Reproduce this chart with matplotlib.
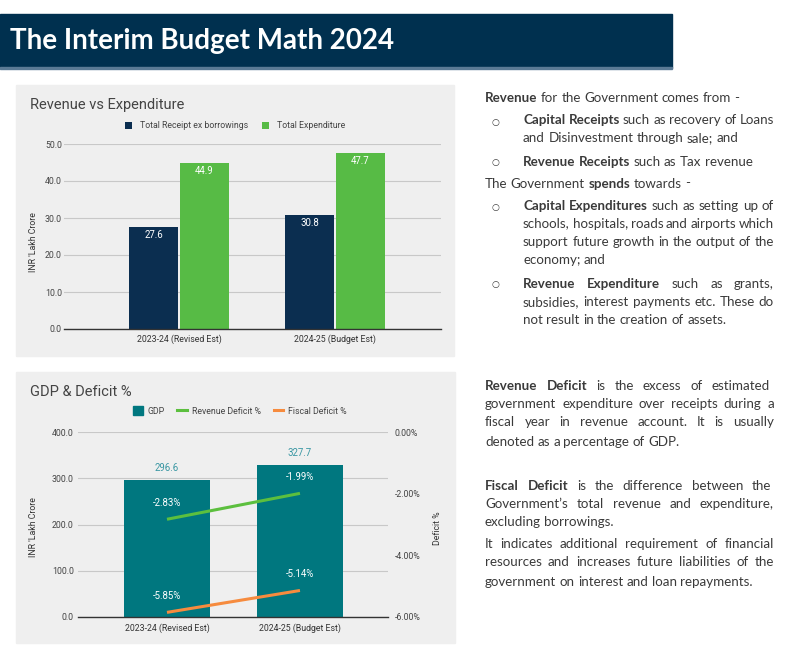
import matplotlib
matplotlib.use('Agg')
import matplotlib.pyplot as plt
from matplotlib.patches import Rectangle, Patch
from matplotlib.lines import Line2D
from matplotlib.ticker import FormatStrFormatter
import numpy as np

# ---------------- data ----------------
categories = ['2023-24 (Revised Est)', '2024-25 (Budget Est)']
total_receipt = [27.6, 30.8]
total_expenditure = [44.9, 47.7]
gdp = [296.6, 327.7]
revenue_deficit = [-2.83, -1.99]
fiscal_deficit = [-5.85, -5.14]
left_ticks_1 = [0, 10, 20, 30, 40, 50]
left_ticks_2 = [0, 100, 200, 300, 400]
right_ticks_2 = [0, -2, -4, -6]

NAVY = '#0b2e50'
GREEN = '#57bb45'
TEAL = '#00777f'
TEAL_TXT = '#3a97a3'
LGREEN = '#5cbf3e'
ORANGE = '#f68b3e'
BANNER = '#00304f'
PANEL = '#efefef'
TXT = '#3a3a3a'
CFONT = 'Roboto'
BFONT = 'Lato'
TS = 6.3   # chart tick / legend size
VS = 6.9   # value label size

W, H = 800, 655
fig = plt.figure(figsize=(8, 6.55), dpi=100)
fig.patch.set_facecolor('white')


def fx(x):
    return x / W


def fy(y):
    return 1 - y / H


def rect_px(x0, y0, x1, y1, **kw):
    r = Rectangle((fx(x0), fy(y1)), (x1 - x0) / W, (y1 - y0) / H,
                  transform=fig.transFigure, **kw)
    fig.add_artist(r)
    return r


def ax_px(x0, y0, x1, y1):
    return fig.add_axes([fx(x0), fy(y1), (x1 - x0) / W, (y1 - y0) / H])


# ---------------- banner ----------------
rect_px(0, 14, 672, 68, color=BANNER, zorder=0)
rect_px(0, 67, 672, 68.5, color='#5a7a95', zorder=0)
fig.text(fx(10), fy(41), 'The Interim Budget Math 2024', color='white',
         fontsize=20, fontweight='bold', family=BFONT, va='center', ha='left')

# ---------------- panels ----------------
rect_px(16, 85, 454, 356, color=PANEL, zorder=0)
rect_px(16, 372, 455, 643, color=PANEL, zorder=0)

fig.text(fx(30), fy(105), 'Revenue vs Expenditure', family=CFONT, fontsize=10.5,
         color='#444444', va='center', ha='left')
fig.text(fx(30), fy(392), 'GDP & Deficit %', family=CFONT, fontsize=10.5,
         color='#444444', va='center', ha='left')

# ---------------- chart 1 ----------------
ax1 = ax_px(64, 144, 441, 329)
ax1.set_facecolor('none')
x = np.arange(len(categories))
bw = 0.315
gap = 0.012
b1 = ax1.bar(x - bw / 2 - gap / 2, total_receipt, bw, color=NAVY,
             label='Total Receipt ex borrowings', zorder=3)
b2 = ax1.bar(x + bw / 2 + gap / 2, total_expenditure, bw, color=GREEN,
             label='Total Expenditure', zorder=3)
ax1.set_xlim(-0.737, 1.68)
ax1.set_ylim(0, 50)
ax1.set_yticks(left_ticks_1)
ax1.yaxis.set_major_formatter(FormatStrFormatter('%.1f'))
ax1.grid(axis='y', color='#c8c8c8', lw=0.8, zorder=0)
ax1.set_axisbelow(True)
for s in ['left', 'right', 'top']:
    ax1.spines[s].set_visible(False)
ax1.spines['bottom'].set_color('#333333')
ax1.spines['bottom'].set_linewidth(1.0)
ax1.spines['bottom'].set_zorder(4)
ax1.set_xticks(x, categories)
ax1.tick_params(axis='y', length=0, labelsize=TS, colors='#444444', pad=1.5)
ax1.tick_params(axis='x', length=0, labelsize=TS, colors='#333333', pad=4)
for lab in ax1.get_xticklabels() + ax1.get_yticklabels():
    lab.set_family(CFONT)
for bars, vals in ((b1, total_receipt), (b2, total_expenditure)):
    for r, v in zip(bars, vals):
        ax1.annotate(f'{v:.1f}', (r.get_x() + r.get_width() / 2, v),
                     xytext=(0, -8), textcoords='offset pixels',
                     ha='center', va='center', color='white', fontsize=VS,
                     family=CFONT, zorder=5)
fig.text(fx(34), fy(242), "INR 'Lakh Crore", rotation=90, family=CFONT,
         fontsize=TS, color='#333333', ha='center', va='center')
leg1 = ax1.legend(loc='center', bbox_to_anchor=(fx(235), fy(126)),
                  bbox_transform=fig.transFigure, ncol=2, frameon=False,
                  prop={'family': CFONT, 'size': TS}, handlelength=0.85,
                  handleheight=0.85, columnspacing=1.6, handletextpad=0.9)
for t in leg1.get_texts():
    t.set_color('#444444')

# ---------------- chart 2 ----------------
ax2 = ax_px(78, 432, 388, 617)
ax2.set_facecolor('none')
bw2 = 0.647
g_bars = ax2.bar(x, gdp, bw2, color=TEAL, zorder=3)
ax2.set_xlim(-0.669, 1.662)
ax2.set_ylim(0, 400)
ax2.set_yticks(left_ticks_2)
ax2.yaxis.set_major_formatter(FormatStrFormatter('%.1f'))
ax2.grid(axis='y', color='#c8c8c8', lw=0.8, zorder=0)
ax2.set_axisbelow(True)
for s in ['left', 'right', 'top']:
    ax2.spines[s].set_visible(False)
ax2.spines['bottom'].set_color('#333333')
ax2.spines['bottom'].set_linewidth(1.0)
ax2.spines['bottom'].set_zorder(4)
ax2.set_xticks(x, categories)
ax2.tick_params(axis='y', length=0, labelsize=TS, colors='#444444', pad=3)
ax2.tick_params(axis='x', length=0, labelsize=TS, colors='#333333', pad=4.5)
for lab in ax2.get_xticklabels() + ax2.get_yticklabels():
    lab.set_family(CFONT)
for r, v in zip(g_bars, gdp):
    ax2.annotate(f'{v:.1f}', (r.get_x() + r.get_width() / 2, v),
                 xytext=(0, 12), textcoords='offset pixels',
                 ha='center', va='center', color=TEAL_TXT, fontsize=VS,
                 family=CFONT, zorder=5)

ax2r = ax2.twinx()
ax2r.set_ylim(-6, 0)
ax2r.set_yticks(right_ticks_2)
ax2r.yaxis.set_major_formatter(FormatStrFormatter('%.2f%%'))
for s in ['left', 'right', 'top', 'bottom']:
    ax2r.spines[s].set_visible(False)
ax2r.tick_params(axis='y', length=0, labelsize=TS, colors='#444444', pad=5)
for lab in ax2r.get_yticklabels():
    lab.set_family(CFONT)
ax2r.plot(x, revenue_deficit, color=LGREEN, lw=2.2, solid_capstyle='butt', zorder=4)
ax2r.plot(x, fiscal_deficit, color=ORANGE, lw=2.2, solid_capstyle='butt', zorder=4)
for vals in (revenue_deficit, fiscal_deficit):
    for xi, v in zip(x, vals):
        ax2r.annotate(f'{v:.2f}%', (xi, v), xytext=(0, 16),
                      textcoords='offset pixels', ha='center', va='center',
                      color='white', fontsize=VS, family=CFONT, zorder=5)
fig.text(fx(34), fy(527), "INR 'Lakh Crore", rotation=90, family=CFONT,
         fontsize=TS, color='#333333', ha='center', va='center')
fig.text(fx(437), fy(528), 'Deficit %', rotation=90, family=CFONT,
         fontsize=TS, color='#333333', ha='center', va='center')
handles2 = [Patch(color=TEAL, label='GDP'),
            Line2D([], [], color=LGREEN, lw=2.2, label='Revenue Deficit %'),
            Line2D([], [], color=ORANGE, lw=2.2, label='Fiscal Deficit %')]
leg2 = ax2r.legend(handles=handles2, loc='center', bbox_to_anchor=(fx(240), fy(411)),
                   bbox_transform=fig.transFigure, ncol=3, frameon=False,
                   prop={'family': CFONT, 'size': TS}, handlelength=1.1,
                   handleheight=1.15, columnspacing=1.4, handletextpad=0.6)
for t in leg2.get_texts():
    t.set_color('#444444')

# ---------------- right-hand text ----------------
FS = 9.6
renderer = fig.canvas.get_renderer()


def measure(s, bold):
    t = fig.text(0, 0, s, fontsize=FS, family=BFONT,
                 fontweight='bold' if bold else 'normal')
    w = t.get_window_extent(renderer=renderer).width
    t.remove()
    return w


def draw_line(runs, x0, yc, x1=None):
    """runs: list of (text, bold). If x1 given, justify words to span x0..x1."""
    words = []
    for txt, bold in runs:
        for w in txt.split():
            words.append((w, bold))
    base = yc + 4.5
    widths = [measure(w, b) for w, b in words]
    if x1 is not None and len(words) > 1:
        space = (x1 - x0 - sum(widths)) / (len(words) - 1)
    else:
        space = measure('a b', False) - measure('ab', False)
    cx = x0
    for (w, b), wd in zip(words, widths):
        fig.text(fx(cx), fy(base), w, fontsize=FS, family=BFONT, color=TXT,
                 fontweight='bold' if b else 'normal', va='baseline', ha='left')
        cx += wd + space


def bullet(yc):
    fig.text(fx(495), fy(yc + 4.5), '\u25cb', fontsize=6.5, family='DejaVu Sans',
             color=TXT, va='baseline', ha='center')


L, IND, R = 485, 523, 774
draw_line([('Revenue', True), ('for the Government comes from -', False)], L, 98)
bullet(120)
draw_line([('Capital Receipts', True), ('such as recovery of Loans', False)], IND, 120, R)
draw_line([('and Disinvestment through sale; and', False)], IND, 138)
bullet(161)
draw_line([('Revenue Receipts', True), ('such as Tax revenue', False)], IND, 161)
draw_line([('The Government', False), ('spends', True), ('towards -', False)], L, 183)
bullet(205)
draw_line([('Capital Expenditures', True), ('such as setting up of', False)], IND, 205, R)
draw_line([('schools, hospitals, roads and airports which', False)], IND, 223, R)
draw_line([('support future growth in the output of the', False)], IND, 242, R)
draw_line([('economy; and', False)], IND, 260)
bullet(283)
draw_line([('Revenue Expenditure', True), ('such as grants,', False)], IND, 283, R)
draw_line([('subsidies, interest payments etc. These do', False)], IND, 302, R)
draw_line([('not result in the creation of assets.', False)], IND, 320)

draw_line([('Revenue Deficit', True), ('is the excess of estimated', False)], L, 385, 770)
draw_line([('government expenditure over receipts during a', False)], L, 403, R)
draw_line([('fiscal year in revenue account. It is usually', False)], L, 422, R)
draw_line([('denoted as a percentage of GDP.', False)], L, 441)
draw_line([('Fiscal Deficit', True), ('is the difference between the', False)], L, 485, 771)
draw_line([('Government\u2019s total revenue and expenditure,', False)], L, 503, R)
draw_line([('excluding borrowings.', False)], L, 522)
draw_line([('It indicates additional requirement of financial', False)], L, 543, R)
draw_line([('resources and increases future liabilities of the', False)], L, 562, R)
draw_line([('government on interest and loan repayments.', False)], L, 581)

fig.savefig('out.png', dpi=100, facecolor='white')
